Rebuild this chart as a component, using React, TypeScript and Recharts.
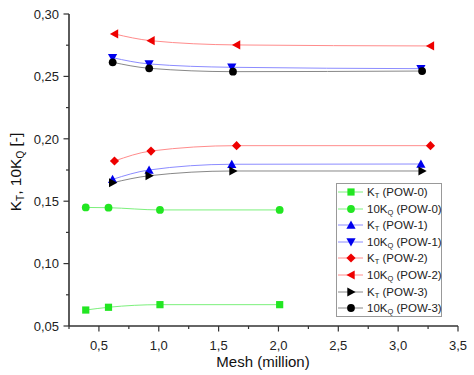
import React from "react";
import { LineChart, Line, XAxis, YAxis } from "recharts";

// mesh size (million cells) and coefficients per propeller set
const pow0Mesh = [0.39, 0.58, 1.01, 2.01];
const pow0Kt = [0.0628, 0.065, 0.0671, 0.0671];
const pow0Kq = [0.145, 0.1448, 0.143, 0.143];

const pow1Mesh = [0.614, 0.919, 1.61, 3.19];
const pow1Kt = [0.1675, 0.175, 0.1796, 0.1798];
const pow1Kq = [0.265, 0.26, 0.2573, 0.2562];

const pow2Mesh = [0.63, 0.935, 1.65, 3.27];
const pow2Kt = [0.1822, 0.1902, 0.1945, 0.1945];
const pow2Kq = [0.284, 0.2786, 0.2752, 0.2744];

const pow3Mesh = [0.615, 0.92, 1.62, 3.2];
const pow3Kt = [0.1648, 0.1704, 0.1742, 0.1742];
const pow3Kq = [0.2613, 0.2565, 0.2538, 0.2543];

const xTicks = [0.25, 0.5, 0.75, 1, 1.25, 1.5, 1.75, 2, 2.25, 2.5, 2.75, 3, 3.25, 3.5];
const yTicks = [0.05, 0.075, 0.1, 0.125, 0.15, 0.175, 0.2, 0.225, 0.25, 0.275, 0.3];

const FONT = "'Liberation Sans', Arial, sans-serif";
const AXIS = "#333";

type Shape = "square" | "circle" | "up" | "down" | "diamond" | "left" | "right";

const zip = (xs: number[], ys: number[]) => xs.map((x, i) => ({ x, y: ys[i] }));

const series = [
  { name: "POW-0", q: false, data: zip(pow0Mesh, pow0Kt), shape: "square" as Shape, color: "#22e622", line: "#7cf07c" },
  { name: "POW-0", q: true, data: zip(pow0Mesh, pow0Kq), shape: "circle" as Shape, color: "#22e622", line: "#7cf07c" },
  { name: "POW-1", q: false, data: zip(pow1Mesh, pow1Kt), shape: "up" as Shape, color: "#0000ee", line: "#8c8cff" },
  { name: "POW-1", q: true, data: zip(pow1Mesh, pow1Kq), shape: "down" as Shape, color: "#0000ee", line: "#8c8cff" },
  { name: "POW-2", q: false, data: zip(pow2Mesh, pow2Kt), shape: "diamond" as Shape, color: "#ee0000", line: "#ff8c8c" },
  { name: "POW-2", q: true, data: zip(pow2Mesh, pow2Kq), shape: "left" as Shape, color: "#ee0000", line: "#ff8c8c" },
  { name: "POW-3", q: false, data: zip(pow3Mesh, pow3Kt), shape: "right" as Shape, color: "#000", line: "#888" },
  { name: "POW-3", q: true, data: zip(pow3Mesh, pow3Kq), shape: "circle" as Shape, color: "#000", line: "#888" },
];

function Marker({ cx, cy, shape, color }: { cx: number; cy: number; shape: Shape; color: string }) {
  const s = 4.6;
  switch (shape) {
    case "square":
      return <rect x={cx - 3.6} y={cy - 3.6} width={7.2} height={7.2} fill={color} />;
    case "circle":
      return <circle cx={cx} cy={cy} r={3.9} fill={color} />;
    case "up":
      return <polygon points={`${cx},${cy - s} ${cx + s},${cy + s * 0.8} ${cx - s},${cy + s * 0.8}`} fill={color} />;
    case "down":
      return <polygon points={`${cx},${cy + s} ${cx + s},${cy - s * 0.8} ${cx - s},${cy - s * 0.8}`} fill={color} />;
    case "left":
      return <polygon points={`${cx - s},${cy} ${cx + s * 0.8},${cy - s} ${cx + s * 0.8},${cy + s}`} fill={color} />;
    case "right":
      return <polygon points={`${cx + s},${cy} ${cx - s * 0.8},${cy - s} ${cx - s * 0.8},${cy + s}`} fill={color} />;
    case "diamond":
      return <polygon points={`${cx},${cy - s} ${cx + s},${cy} ${cx},${cy + s} ${cx - s},${cy}`} fill={color} />;
  }
  return null;
}

const isMajor = (v: number, step: number) => Math.abs(v / step - Math.round(v / step)) < 1e-6;

function BottomTick({ x, y, payload }: any) {
  const major = isMajor(payload.value, 0.5);
  return (
    <g>
      <line x1={x} x2={x} y1={y} y2={y + (major ? 5.5 : 3)} stroke={AXIS} strokeWidth={1.2} />
      {major && payload.value > 0.3 && (
        <text x={x} y={y + 23.5} textAnchor="middle" fontSize={13} fontFamily={FONT} fill="#222">
          {payload.value.toFixed(1).replace(".", ",")}
        </text>
      )}
    </g>
  );
}

function TopTick({ x, y, payload }: any) {
  const major = isMajor(payload.value, 0.5);
  return <line x1={x} x2={x} y1={y} y2={y + (major ? 5 : 3)} stroke={AXIS} strokeWidth={1.2} />;
}

function LeftTick({ x, y, payload }: any) {
  const major = isMajor(payload.value, 0.05);
  return (
    <g>
      <line x1={x} x2={x - (major ? 5.5 : 3)} y1={y} y2={y} stroke={AXIS} strokeWidth={1.2} />
      {major && (
        <text x={x - 10} y={y + 4.8} textAnchor="end" fontSize={13} fontFamily={FONT} fill="#222">
          {payload.value.toFixed(2).replace(".", ",")}
        </text>
      )}
    </g>
  );
}

function RightTick({ x, y, payload }: any) {
  const major = isMajor(payload.value, 0.05);
  return <line x1={x} x2={x - (major ? 5 : 3)} y1={y} y2={y} stroke={AXIS} strokeWidth={1.2} />;
}

function YTitle() {
  return (
    <text
      transform="translate(21,172) rotate(-90)"
      textAnchor="middle"
      fontSize={15.5}
      fontFamily={FONT}
      fill="#111"
    >
      K<tspan fontSize={10} dy={3}>T</tspan>
      <tspan dy={-3}>, 10K</tspan>
      <tspan fontSize={10} dy={3}>Q</tspan>
      <tspan dy={-3}> [-]</tspan>
    </text>
  );
}

function XTitle() {
  return (
    <text x={263} y={366.5} textAnchor="middle" fontSize={15} fontFamily={FONT} fill="#111">
      Mesh (million)
    </text>
  );
}

function LegendBox() {
  return (
    <div
      style={{
        position: "absolute",
        left: 336,
        top: 183,
        width: 104,
        height: 132,
        border: "1px solid #999",
        background: "#fff",
        fontFamily: FONT,
        fontSize: 11.5,
        color: "#222",
      }}
    >
      {series.map((s, i) => (
        <div key={i} style={{ display: "flex", alignItems: "center", height: 16.55 }}>
          <svg width={30} height={16} style={{ flex: "none" }}>
            <line x1={1} x2={26} y1={8} y2={8} stroke={s.line} strokeWidth={1} />
            <Marker cx={14} cy={8} shape={s.shape} color={s.color} />
          </svg>
          <span style={{ whiteSpace: "nowrap" }}>
            {s.q ? "10K" : "K"}
            <span style={{ fontSize: 7.5, position: "relative", top: 2 }}>{s.q ? "Q" : "T"}</span>
            {" (" + s.name + ")"}
          </span>
        </div>
      ))}
    </div>
  );
}

export default function App() {
  return (
    <div style={{ position: "absolute", left: 0, top: 0, width: 474, height: 375, background: "#fff" }}>
      <LineChart width={474} height={375} margin={{ top: 14, right: 16, bottom: 0, left: 0 }}>
        <XAxis
          xAxisId="b"
          dataKey="x"
          type="number"
          domain={[0.25, 3.5]}
          ticks={xTicks}
          interval={0}
          allowDataOverflow
          height={49}
          tickSize={0}
          tickMargin={0}
          stroke={AXIS}
          axisLine={{ stroke: AXIS, strokeWidth: 1.6 }}
          tick={<BottomTick />}
          label={<XTitle />}
        />
        <XAxis
          xAxisId="t"
          orientation="top"
          dataKey="x"
          type="number"
          domain={[0.25, 3.5]}
          ticks={xTicks}
          interval={0}
          allowDataOverflow
          height={0}
          tickSize={0}
          tickMargin={0}
          axisLine={{ stroke: AXIS, strokeWidth: 1.6 }}
          tick={<TopTick />}
        />
        <YAxis
          yAxisId="l"
          type="number"
          domain={[0.05, 0.3]}
          ticks={yTicks}
          interval={0}
          allowDataOverflow
          width={69}
          tickSize={0}
          tickMargin={0}
          axisLine={{ stroke: AXIS, strokeWidth: 1.6 }}
          tick={<LeftTick />}
          label={<YTitle />}
        />
        <YAxis
          yAxisId="r"
          orientation="right"
          type="number"
          domain={[0.05, 0.3]}
          ticks={yTicks}
          interval={0}
          allowDataOverflow
          width={0}
          tickSize={0}
          tickMargin={0}
          axisLine={{ stroke: AXIS, strokeWidth: 1.6 }}
          tick={<RightTick />}
        />
        {series.map((s, i) => (
          <Line
            key={i}
            xAxisId="b"
            yAxisId="l"
            data={s.data}
            dataKey="y"
            type="monotone"
            stroke={s.line}
            strokeWidth={1}
            isAnimationActive={false}
            activeDot={false}
            dot={(p: any) => <Marker key={`d${i}-${p.index}`} cx={p.cx} cy={p.cy} shape={s.shape} color={s.color} />}
          />
        ))}
      </LineChart>
      <LegendBox />
    </div>
  );
}
